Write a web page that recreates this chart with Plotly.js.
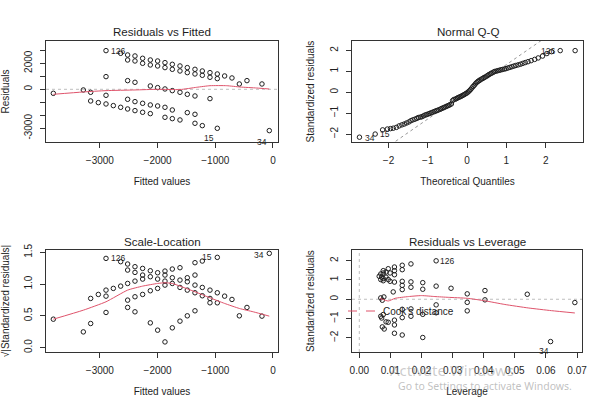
<!DOCTYPE html>
<html>
<head>
<meta charset="utf-8">
<script src="https://cdn.plot.ly/plotly-3.0.1.min.js"></script>
<style>html,body{margin:0;padding:0;background:#fff;}#chart{width:590px;height:399px;}</style>
</head>
<body>
<div id="chart"></div>
<script>
// ---------- Residuals vs Fitted ----------
const rvfFitted = [-2894,-2640,-2519,-2519,-2392,-2392,-2259,-2259,-2126,-2126,-1999,-1999,-1872,-1872,-1745,-1745,-1612,-1612,-1485,-1485,-1352,-1352,-1225,-1225,-1092,-1092,-965,-965,-838,-711,-583,-451,-191,
  -2894,-2519,-2392,-2126,-1999,-1872,-3807,-3287,-3160,-2894,-1745,-1612,-1485,-1352,-1092,
  -3160,-3027,-2894,-2767,-2640,-2519,-2392,-2259,-2126,-1999,-1872,-2519,-2392,-2259,-2126,-1745,-1485,-1352,-1872,-1745,-1612,-1352,-1225,-965,-64];
const rvfResid = [2974,2769,2641,2256,2564,2179,2385,2000,2256,1872,2179,1795,2051,1667,1923,1538,1795,1410,1667,1282,1538,1179,1410,1077,1282,923,1179,821,1026,872,410,667,410,
  974,667,538,256,128,26,-308,-51,-231,-462,-103,-231,-385,-513,-718,
  -897,-1026,-1128,-1256,-1385,-769,-949,-1077,-1205,-1282,-1385,-1513,-1641,-1769,-1872,-1590,-1795,-1923,-2154,-2256,-2359,-2615,-2795,-3000,-3179];
const rvfSmoothX = [-3807,-3287,-2894,-2392,-1999,-1612,-1322,-1092,-802,-572,-282,-64];
const rvfSmoothY = [-385,-205,-103,-51,0,-20,154,277,277,177,100,23];
const rvfYTicks = [-3000,-2000,-1000,0,1000,2000,3000];
const rvfYTickText = ['-3000','','','0','','2000',''];

// ---------- Normal Q-Q ----------
const qqTheo = [-2.74,-2.34,-2.15,-2.03,-1.95,-1.88,-1.80,-1.73,-1.66,-1.60,-1.54,-1.48,-1.43,-1.38,-1.33,-1.28,-1.24,-1.19,-1.15,-1.11,-1.07,-1.03,-0.99,-0.95,-0.91,-0.87,-0.83,-0.79,-0.76,-0.72,-0.68,-0.65,-0.61,-0.58,-0.54,-0.51,-0.47,-0.44,-0.40,-0.37,-0.34,-0.30,-0.27,-0.24,-0.21,-0.18,-0.15,-0.12,-0.09,-0.06,-0.03,0.00,0.03,0.06,0.09,0.12,0.15,0.18,0.21,0.24,0.27,0.30,0.33,0.37,0.40,0.43,0.46,0.50,0.53,0.56,0.60,0.63,0.67,0.70,0.74,0.78,0.82,0.86,0.90,0.95,0.99,1.04,1.09,1.14,1.19,1.24,1.30,1.36,1.42,1.48,1.55,1.63,1.72,1.81,1.92,2.03,2.15,2.37,2.75];
const qqStd = [-2.15,-2.00,-1.80,-1.76,-1.74,-1.72,-1.68,-1.61,-1.56,-1.52,-1.47,-1.42,-1.36,-1.32,-1.29,-1.25,-1.21,-1.19,-1.17,-1.13,-1.09,-1.07,-1.04,-1.01,-0.98,-0.95,-0.92,-0.89,-0.87,-0.84,-0.81,-0.78,-0.75,-0.72,-0.69,-0.66,-0.63,-0.60,-0.56,-0.40,-0.35,-0.33,-0.30,-0.27,-0.24,-0.22,-0.19,-0.16,-0.13,-0.10,-0.06,-0.03,0.02,0.07,0.13,0.20,0.27,0.33,0.40,0.46,0.51,0.55,0.59,0.63,0.66,0.70,0.73,0.77,0.81,0.85,0.89,0.92,0.96,0.99,1.01,1.03,1.05,1.07,1.09,1.11,1.13,1.16,1.19,1.22,1.25,1.28,1.31,1.34,1.38,1.42,1.46,1.51,1.57,1.64,1.73,1.85,1.94,1.99,1.99];
const qqLineIntercept = 0.02;
const qqLineSlope = 1.30;
const qqLineX = [-3.2, 3.2];

// ---------- Scale-Location ----------
const slFitted = [-3807,-3287,-3160,-3160,-3027,-2894,-2894,-2894,-2894,-2767,-2640,-2640,-2519,-2519,-2519,-2519,-2519,-2392,-2392,-2392,-2392,-2392,-2259,-2259,-2259,-2259,-2126,-2126,-2126,-2126,-1999,-1999,-1999,-1999,-1872,-1872,-1872,-1872,-1872,-1745,-1745,-1745,-1745,-1612,-1612,-1612,-1612,-1485,-1485,-1485,-1485,-1352,-1352,-1352,-1352,-1352,-1225,-1225,-1225,-1092,-1092,-1092,-965,-965,-965,-838,-711,-583,-451,-191,-64];
const slSqrt = [0.447,0.247,0.379,0.774,0.837,0.905,0.810,0.553,1.405,0.932,0.968,1.353,1.316,1.221,1.010,0.747,0.632,1.274,1.184,1.047,0.800,0.563,1.247,1.142,1.079,0.837,1.210,1.116,0.895,0.389,1.179,1.079,0.932,0.274,1.205,1.142,1.047,0.984,0.089,1.237,1.100,1.010,0.311,1.258,1.063,0.947,0.416,1.100,1.037,0.905,0.500,1.337,1.142,0.984,0.863,0.579,1.363,0.947,0.816,0.905,0.774,0.705,1.421,0.863,0.705,0.810,0.758,0.500,0.632,0.495,1.484];
const slSmoothX = [-3807,-3287,-2894,-2519,-2259,-1999,-1872,-1745,-1612,-1352,-1092,-838,-583,-341,-64];
const slSmoothY = [0.447,0.589,0.721,0.905,0.968,1.010,1.021,1.010,0.968,0.879,0.784,0.695,0.616,0.563,0.495];

// ---------- Residuals vs Leverage ----------
const rvlLev = [0.0077,0.0093,0.0113,0.0113,0.0138,0.0138,0.0166,0.0069,0.0077,0.0086,0.0099,0.0113,0.0064,0.0072,0.0077,0.0086,0.0093,0.0099,0.0113,0.0069,0.0077,0.0138,0.0138,0.0138,0.0166,0.0166,0.0204,0.0204,0.0247,0.0295,0.0109,0.0347,0.0404,0.0540,0.0247,
  0.0069,0.0074,0.0079,0.0404,0.0347,0.0693,
  0.0069,0.0072,0.0077,0.0093,0.0086,0.0074,0.0080,0.0113,0.0138,0.0113,0.0113,0.0138,0.0138,0.0166,0.0166,0.0204,0.0247,0.0247,0.0204,0.0347,0.0615];
const rvlStd = [1.48,1.58,1.67,1.48,1.76,1.53,1.83,1.31,1.36,1.41,1.36,1.27,1.19,1.14,1.07,1.14,1.02,0.93,0.89,1.02,0.96,0.93,0.72,0.50,0.90,0.62,0.86,0.52,0.68,0.57,0.38,0.28,0.45,0.26,1.99,
  0.07,-0.05,0.12,-0.03,-0.16,-0.17,
  -0.88,-0.97,-0.79,-1.19,-1.17,-1.43,-1.54,-1.76,-1.85,-1.33,-1.08,-0.52,-0.95,-0.50,-0.88,-0.78,-0.29,-0.70,-1.98,-0.60,-2.19];
const rvlSmoothX = [0.0066,0.0093,0.0115,0.0158,0.0200,0.0243,0.0286,0.0347,0.0404,0.0468,0.0543,0.0618,0.0693];
const rvlSmoothY = [0.05,-0.09,0.05,0.14,0.19,0.14,0.10,0.05,-0.08,-0.27,-0.45,-0.59,-0.71];

// ---------- point id labels ----------
const idLabels = [
  {text:'126', x:-2840, y:2974, xanchor:'left', ax:'x', ay:'y'},
  {text:'15',  x:-1104, y:-3769, xanchor:'center', ax:'x', ay:'y'},
  {text:'34',  x:-196,  y:-4030, xanchor:'center', ax:'x', ay:'y'},
  {text:'126', x:2.30,  y:1.99, xanchor:'right', ax:'x2', ay:'y2'},
  {text:'34',  x:-2.66, y:-2.18, xanchor:'left', ax:'x2', ay:'y2'},
  {text:'15',  x:-2.26, y:-2.01, xanchor:'left', ax:'x2', ay:'y2'},
  {text:'126', x:-2837, y:1.405, xanchor:'left', ax:'x3', ay:'y3'},
  {text:'15',  x:-1017, y:1.421, xanchor:'right', ax:'x3', ay:'y3'},
  {text:'34',  x:-127,  y:1.458, xanchor:'right', ax:'x3', ay:'y3'},
  {text:'126', x:0.0254, y:1.98, xanchor:'left', ax:'x4', ay:'y4'},
  {text:'34',  x:0.0595, y:-2.67, xanchor:'center', ax:'x4', ay:'y4'}
];

const INK = '#1e1e1e';
const RED = '#DF536B';
const GRAY = '#BEBEBE';
const FONT = 'Liberation Sans, Arial, sans-serif';

function pts(x, y, xa, ya) {
  return {x:x, y:y, xaxis:xa, yaxis:ya, type:'scatter', mode:'markers', showlegend:false, hoverinfo:'skip',
    marker:{symbol:'circle-open', size:4.5, color:INK, line:{width:1, color:INK}}};
}
function smooth(x, y, xa, ya) {
  return {x:x, y:y, xaxis:xa, yaxis:ya, type:'scatter', mode:'lines', showlegend:false, hoverinfo:'skip',
    line:{color:RED, width:1, shape:'spline', smoothing:0.5}};
}

const data = [
  pts(rvfFitted, rvfResid, 'x', 'y'),
  smooth(rvfSmoothX, rvfSmoothY, 'x', 'y'),
  {x:qqLineX, y:qqLineX.map(v => qqLineIntercept + qqLineSlope * v), xaxis:'x2', yaxis:'y2', type:'scatter', mode:'lines',
    showlegend:false, hoverinfo:'skip', line:{color:'#9a9a9a', width:1, dash:'dot'}},
  pts(qqTheo, qqStd, 'x2', 'y2'),
  pts(slFitted, slSqrt, 'x3', 'y3'),
  smooth(slSmoothX, slSmoothY, 'x3', 'y3'),
  pts(rvlLev, rvlStd, 'x4', 'y4'),
  smooth(rvlSmoothX, rvlSmoothY, 'x4', 'y4'),
  {x:[null], y:[null], xaxis:'x4', yaxis:'y4', type:'scatter', mode:'lines', name:"Cook's distance", showlegend:true,
    line:{color:RED, width:1, dash:'dash'}}
];

function ax(extra) {
  return Object.assign({
    showline:true, mirror:true, linecolor:'#333', linewidth:1,
    ticks:'outside', ticklen:5, tickwidth:1, tickcolor:'#333',
    showgrid:false, zeroline:false, fixedrange:true,
    tickfont:{family:FONT, size:10, color:INK},
    ticklabelstandoff:4
  }, extra);
}

const W = 590, H = 399;
const dx = (a, b) => [a / W, b / W];
const dy = (top, bottom) => [1 - bottom / H, 1 - top / H];

const layout = {
  width:W, height:H,
  margin:{l:0, r:0, t:0, b:0},
  paper_bgcolor:'#fff', plot_bgcolor:'#fff',
  font:{family:FONT, color:INK},
  showlegend:true,
  legend:{x:343/W, y:1 - 311/H, xanchor:'left', yanchor:'middle', bgcolor:'rgba(0,0,0,0)',
    font:{family:FONT, size:10, color:INK}, borderwidth:0, tracegroupgap:0},
  xaxis: ax({domain:dx(46,278), anchor:'y', range:[-3934,87], tickvals:[-3000,-2000,-1000,0],
    title:{text:'Fitted values', font:{family:FONT, size:10, color:INK}, standoff:12}}),
  yaxis: ax({domain:dy(41,142), anchor:'x', range:[-4054,3715], tickvals:rvfYTicks, ticktext:rvfYTickText, tickangle:-90,
    title:{text:'Residuals', font:{family:FONT, size:10, color:INK}, standoff:12}}),
  xaxis2: ax({domain:dx(352,583), anchor:'y2', range:[-2.93,2.95], tickvals:[-2,-1,0,1,2],
    title:{text:'Theoretical Quantiles', font:{family:FONT, size:10, color:INK}, standoff:12}}),
  yaxis2: ax({domain:dy(41,142), anchor:'x2', range:[-2.38,2.45], tickvals:[-2,-1,0,1,2], tickangle:-90,
    title:{text:'Standardized residuals', font:{family:FONT, size:10, color:INK}, standoff:12}}),
  xaxis3: ax({domain:dx(46,278), anchor:'y3', range:[-3934,87], tickvals:[-3000,-2000,-1000,0],
    title:{text:'Fitted values', font:{family:FONT, size:10, color:INK}, standoff:12}}),
  yaxis3: ax({domain:dy(250,352), anchor:'x3', range:[-0.07,1.537], tickvals:[0,0.5,1,1.5], tickformat:'.1f', tickangle:-90,
    title:{text:'√|Standardized residuals|', font:{family:FONT, size:10, color:INK}, standoff:12}}),
  xaxis4: ax({domain:dx(352,582), anchor:'y4', range:[-0.00235,0.0716], tickvals:[0,0.01,0.02,0.03,0.04,0.05,0.06,0.07], tickformat:'.2f',
    title:{text:'Leverage', font:{family:FONT, size:10, color:INK}, standoff:12}}),
  yaxis4: ax({domain:dy(250,352), anchor:'x4', range:[-2.73,2.55], tickvals:[-2,-1,0,1,2], tickangle:-90,
    title:{text:'Standardized residuals', font:{family:FONT, size:10, color:INK}, standoff:12}}),
  shapes:[
    {type:'line', xref:'x domain', yref:'y', x0:0, x1:1, y0:0, y1:0, line:{color:GRAY, width:1, dash:'dot'}, layer:'below'},
    {type:'line', xref:'x4 domain', yref:'y4', x0:0, x1:1, y0:0, y1:0, line:{color:GRAY, width:1, dash:'dot'}, layer:'below'},
    {type:'line', xref:'x4', yref:'y4 domain', x0:0, x1:0, y0:0, y1:1, line:{color:GRAY, width:1, dash:'dot'}, layer:'below'}
  ],
  annotations:[]
};

const titles = [
  {text:'Residuals vs Fitted', x:(46+278)/2, y:31.7},
  {text:'Normal Q-Q', x:(352+583)/2, y:31.7},
  {text:'Scale-Location', x:(46+278)/2, y:241.7},
  {text:'Residuals vs Leverage', x:(352+582)/2, y:241.7}
];
titles.forEach(t => layout.annotations.push({text:t.text, xref:'paper', yref:'paper', x:t.x / W, y:1 - t.y / H,
  xanchor:'center', yanchor:'middle', showarrow:false, font:{family:FONT, size:11.6, color:INK}}));

idLabels.forEach(l => layout.annotations.push({text:l.text, xref:l.ax, yref:l.ay, x:l.x, y:l.y, xanchor:l.xanchor,
  yanchor:'middle', showarrow:false, font:{family:FONT, size:8.5, color:INK}}));

// screenshot watermark (drawn over the lower-right axis, as in the reference)
layout.annotations.push({text:'Activate Windows', xref:'paper', yref:'paper', x:452/W, y:1 - 370/H, xanchor:'center', yanchor:'middle',
  showarrow:false, font:{family:'Noto Sans, sans-serif', size:15, color:'rgba(140,140,140,0.45)'}});
layout.annotations.push({text:'Go to Settings to activate Windows.', xref:'paper', yref:'paper', x:485/W, y:1 - 386/H, xanchor:'center', yanchor:'middle',
  showarrow:false, font:{family:'Noto Sans, sans-serif', size:10.5, color:'rgba(140,140,140,0.55)'}});

Plotly.newPlot('chart', data, layout, {staticPlot:true, displayModeBar:false});
</script>
</body>
</html>
